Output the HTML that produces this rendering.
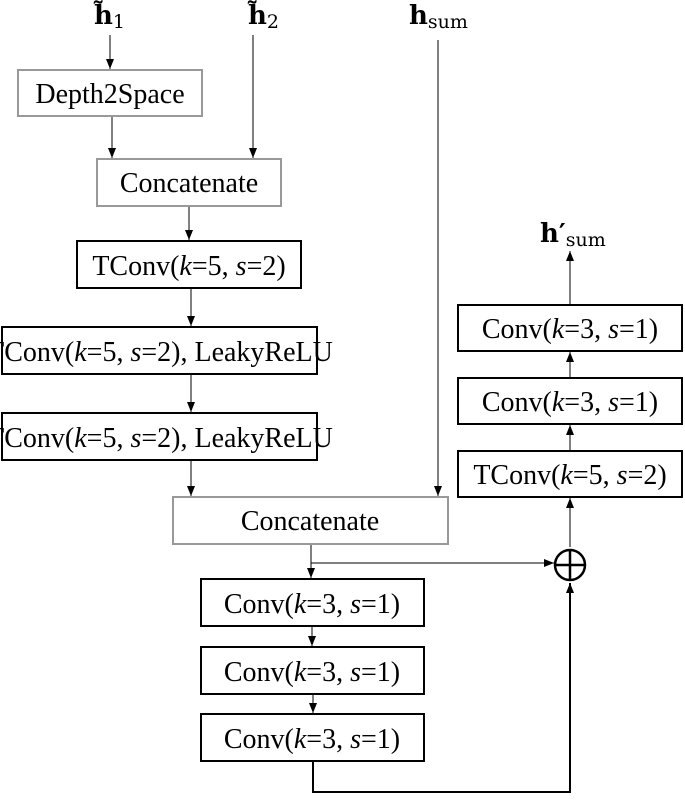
<!DOCTYPE html>
<html><head><style>
body{margin:0;background:#fff;}
svg text{font-family:"Liberation Serif",serif;font-size:28px;fill:#000;}
</style></head><body>
<svg width="685" height="796" viewBox="0 0 685 796" xmlns="http://www.w3.org/2000/svg">
<defs>
<marker id="b" viewBox="0 0 10 10" refX="10" refY="5" markerWidth="10" markerHeight="10" orient="auto" markerUnits="userSpaceOnUse"><path d="M0,1 L10,5 L0,9 z" fill="#000"/></marker></defs>
<g stroke="#000" stroke-width="1" fill="none">
<line x1="110" y1="35" x2="110" y2="69" marker-end="url(#b)"/>
<line x1="112" y1="117" x2="112" y2="158" marker-end="url(#b)"/>
<line x1="253" y1="35" x2="253" y2="158" marker-end="url(#b)"/>
<line x1="189" y1="206" x2="189" y2="240" marker-end="url(#b)"/>
<line x1="191" y1="288" x2="191" y2="326" marker-end="url(#b)"/>
<line x1="191" y1="374" x2="191" y2="412" marker-end="url(#b)"/>
<line x1="191" y1="460" x2="191" y2="496" marker-end="url(#b)"/>
<line x1="438" y1="40" x2="438" y2="496" marker-end="url(#b)"/>
<line x1="311" y1="544" x2="311" y2="578" marker-end="url(#b)"/>
<line x1="311" y1="563" x2="554" y2="563" marker-end="url(#b)"/>
<line x1="312" y1="626" x2="312" y2="646" marker-end="url(#b)"/>
<line x1="313" y1="694" x2="313" y2="713" marker-end="url(#b)"/>
<line x1="570" y1="547" x2="570" y2="498" marker-end="url(#b)"/>
<line x1="570" y1="451" x2="570" y2="425" marker-end="url(#b)"/>
<line x1="570" y1="378" x2="570" y2="352" marker-end="url(#b)"/>
<line x1="570" y1="305" x2="570" y2="251" marker-end="url(#b)"/>
<polyline points="313,761 313,792 570,792 570,583" stroke-width="2" marker-end="url(#b)"/>
<circle cx="570" cy="565" r="15" stroke-width="2.5"/>
<line x1="555" y1="565" x2="585" y2="565" stroke-width="2.5"/>
<line x1="570" y1="550" x2="570" y2="580" stroke-width="2.5"/>
</g>
<g fill="#fff" stroke="#999" stroke-width="2">
<rect x="18" y="70" width="184" height="46"/>
<rect x="97" y="159" width="184" height="47"/>
<rect x="173" y="497" width="275" height="47"/>
</g>
<g fill="#fff" stroke="#000" stroke-width="2">
<rect x="77" y="241" width="224" height="47"/>
<rect x="2" y="327" width="315" height="47"/>
<rect x="2" y="413" width="315" height="47"/>
<rect x="201" y="579" width="223" height="47"/>
<rect x="201" y="647" width="223" height="47"/>
<rect x="201" y="714" width="223" height="47"/>
<rect x="458" y="305" width="224" height="46"/>
<rect x="458" y="378" width="224" height="46"/>
<rect x="458" y="451" width="224" height="46"/>
</g>
<g text-anchor="middle">
<text x="110" y="103">Depth2Space</text>
<text x="189" y="192">Concatenate</text>
<text x="189" y="275">TConv(<tspan font-style="italic">k</tspan>=5, <tspan font-style="italic">s</tspan>=2)</text>
<text x="160" y="361">TConv(<tspan font-style="italic">k</tspan>=5, <tspan font-style="italic">s</tspan>=2), LeakyReLU</text>
<text x="160" y="447">TConv(<tspan font-style="italic">k</tspan>=5, <tspan font-style="italic">s</tspan>=2), LeakyReLU</text>
<text x="310" y="530">Concatenate</text>
<text x="312" y="613">Conv(<tspan font-style="italic">k</tspan>=3, <tspan font-style="italic">s</tspan>=1)</text>
<text x="312" y="681">Conv(<tspan font-style="italic">k</tspan>=3, <tspan font-style="italic">s</tspan>=1)</text>
<text x="312" y="748">Conv(<tspan font-style="italic">k</tspan>=3, <tspan font-style="italic">s</tspan>=1)</text>
<text x="570" y="338">Conv(<tspan font-style="italic">k</tspan>=3, <tspan font-style="italic">s</tspan>=1)</text>
<text x="570" y="411">Conv(<tspan font-style="italic">k</tspan>=3, <tspan font-style="italic">s</tspan>=1)</text>
<text x="570" y="484">TConv(<tspan font-style="italic">k</tspan>=5, <tspan font-style="italic">s</tspan>=2)</text>
</g>
<text x="94" y="24" style="font-family:'DejaVu Serif',serif;font-weight:bold;font-size:26px">h̃<tspan font-weight="normal" font-size="19" dy="4">1</tspan></text>
<text x="248" y="24" style="font-family:'DejaVu Serif',serif;font-weight:bold;font-size:26px">h̃<tspan font-weight="normal" font-size="19" dy="4">2</tspan></text>
<text x="409" y="24" style="font-family:'DejaVu Serif',serif;font-weight:bold;font-size:26px">h<tspan font-weight="normal" font-size="19" dy="4">sum</tspan></text>
<text x="540" y="242" style="font-family:'DejaVu Serif',serif;font-weight:bold;font-size:26px">h′<tspan font-weight="normal" font-size="19" dy="4">sum</tspan></text>
</svg>
</body></html>
